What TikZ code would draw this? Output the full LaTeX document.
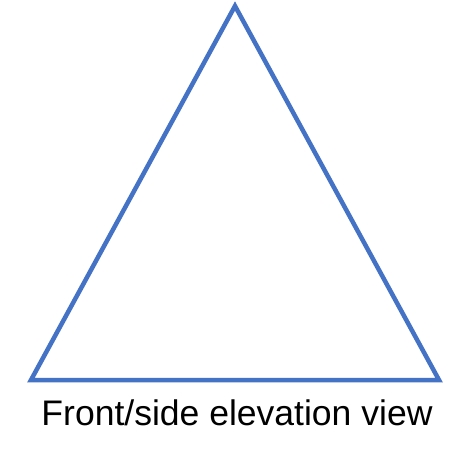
\documentclass[tikz,border=0pt]{standalone}
\usepackage{fontspec}
\setmainfont{Liberation Sans}
\definecolor{tri}{HTML}{4472C4}
\begin{document}
\begin{tikzpicture}[x=1pt,y=-1pt,
  triline/.style={draw=tri,line width=4.5pt,line join=miter},
  caption/.style={font=\fontsize{33}{36}\selectfont,inner sep=0pt,anchor=base}]
\useasboundingbox[fill=white] (0,0) rectangle (474,453);
\coordinate (apex) at (235,6);
\coordinate (bl) at (31,380);
\coordinate (br) at (439,380);
\draw[triline] (apex) -- (bl) -- (br) -- cycle;
\node[caption] (label) at (237,425) {\resizebox{391pt}{!}{Front/side elevation view}};
\end{tikzpicture}
\end{document}
